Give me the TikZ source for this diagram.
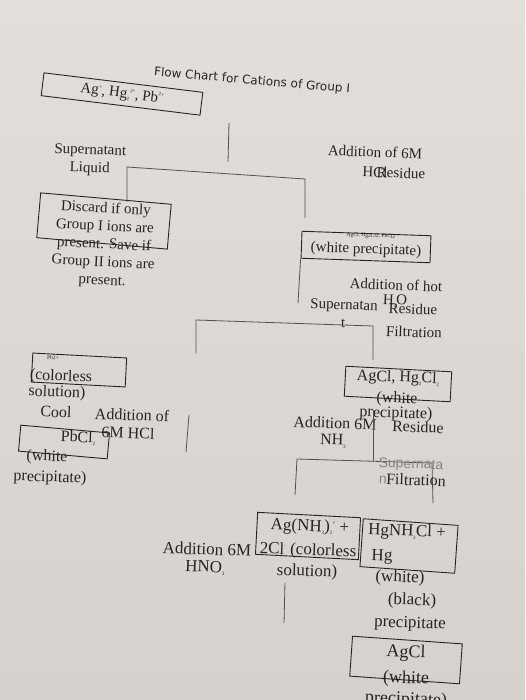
\documentclass[tikz,border=0pt]{standalone}
\usepackage{fontspec}
\setmainfont{Liberation Serif}
\newfontfamily\titlefont{DejaVu Sans}
\newfontfamily\notefont{Liberation Sans}
\usepackage{xcolor}
\usepackage{tikz}
\usetikzlibrary{positioning}

\definecolor{papertop}{RGB}{226,223,219}
\definecolor{paperbottom}{RGB}{213,209,204}
\definecolor{ink}{RGB}{40,36,36}
\definecolor{faded}{RGB}{135,132,130}

% tiny sub- and superscripts of the printed formulas
\newcommand{\chdn}[1]{\raisebox{-0.4ex}{\fontsize{5}{5}\selectfont #1}}
\newcommand{\chup}[1]{\raisebox{0.9ex}{\fontsize{5}{5}\selectfont #1}}

\tikzset{
  box/.style={draw=ink, text=ink, line width=0.9pt, inner sep=0pt, rotate=#1},
  box/.default=-3,
  txt/.style={text=ink, inner sep=0pt, align=center, rotate=#1},
  txt/.default=-2,
  tinytxt/.style={text=ink, inner sep=0pt, font=\fontsize{5.5}{6}\selectfont, rotate=-2},
  branch/.style={draw=ink!80, line width=0.8pt},
}

\begin{document}
\begin{tikzpicture}[x=1pt, y=-1pt, font=\fontsize{15}{18}\selectfont]
    % Paper of the page
    \shade[top color=papertop, bottom color=paperbottom] (0,0) rectangle (525,700);
    \useasboundingbox (0,0) rectangle (525,700);

    % Title and the starting ions
    \node[txt=-5, font=\titlefont\fontsize{12}{14}\selectfont] (title) at (252,81) {Flow Chart for Cations of Group I};
    \node[box=-7, minimum width=160, minimum height=23] (ions) at (122,94) {Ag\chup{+}, Hg\chdn{2}\chup{2+}, Pb\chup{2+}};

    \coordinate (top1) at (229,123);
    \coordinate (top2) at (228,162);
    \draw[branch] (top1) -- (top2);

    % First split: 6M HCl
    \node[txt] (supliq) at (90,160) {Supernatant\\Liquid};
    \node[txt] (addhcl) at (375,152) {Addition of 6M};
    \node[txt] (hcl) at (375,172) {HCl};
    \node[txt] (res1) at (401,173) {Residue};

    \node[box=-5, minimum width=131, minimum height=45] (discard) at (104,221) {};
    \node[txt=-3] (discardtxt) at (104,245) {Discard if only\\Group I ions are\\present. Save if\\Group II ions are\\present.};

    \node[box=-2, minimum width=129, minimum height=27] (wppt) at (366,247) {};
    \node[tinytxt] (wpptions) at (371,236) {AgCl, Hg2Cl2, PbCl2};
    \node[txt] (wppttxt) at (366,250) {(white precipitate)};

    \coordinate (b1a) at (127,202);
    \coordinate (b1l) at (127,167);
    \coordinate (b1r) at (305,179);
    \coordinate (b1d) at (305,218);
    \draw[branch] (b1a) -- (b1l) -- (b1r) -- (b1d);

    \coordinate (w1) at (298,303);
    \draw[branch] (wppt.south west) -- (w1);

    % Hot water
    \node[txt] (addhot) at (396,285) {Addition of hot};
    \node[txt] (hwater) at (395,301) {H\chdn{2}O};
    \node[txt] (sup2) at (344,306) {Supernatan};
    \node[txt] (sup2t) at (343,323) {t};
    \node[txt] (res2) at (413,309) {Residue};
    \node[txt] (filt1) at (414,332) {Filtration};

    \coordinate (b2la) at (196,353);
    \coordinate (b2l) at (196,320);
    \coordinate (b2r) at (373,326);
    \coordinate (b2ra) at (373,360);
    \draw[branch] (b2la) -- (b2l) -- (b2r) -- (b2ra);

    \begin{scope}[font=\fontsize{16}{18}\selectfont]
    % Lead
    \node[box, minimum width=94, minimum height=29] (pbbox) at (79,370) {};
    \node[tinytxt] (pbion) at (53,358) {Pb2+};
    \node[txt] (pbsol1) at (61,377) {(colorless};
    \node[txt] (pbsol2) at (57,393) {solution)};
    \node[txt] (cool) at (56,412) {Cool};
    \node[txt] (addhcl2) at (132,415) {Addition of};
    \node[txt] (hcl2) at (128,433) {6M HCl};
    \node[box=-5, minimum width=89, minimum height=26] (pbcl) at (64,442) {};
    \node[txt] (pbcltxt) at (78,438) {PbCl\chdn{2}};
    \node[txt] (pbclw) at (47,457) {(white};
    \node[txt] (pbclp) at (50,478) {precipitate)};

    \coordinate (c1) at (189,415);
    \coordinate (c2) at (186,452);
    \draw[branch] (c1) -- (c2);

    % Silver and mercury
    \node[box, minimum width=106, minimum height=30] (agbox) at (398,384) {};
    \node[txt] (agtxt) at (398,378) {AgCl, Hg\chdn{2}Cl\chdn{2}};
    \node[txt] (agw) at (397,399) {(white};
    \node[txt] (agp) at (396,414) {precipitate)};
    \node[txt] (addnh3) at (335,423) {Addition 6M};
    \node[txt] (nh3) at (333,441) {NH\chdn{3}};
    \node[txt] (res3) at (418,427) {Residue};

    \coordinate (b3t) at (373,410);
    \coordinate (b3m) at (373,461);
    \coordinate (b3la) at (295,495);
    \coordinate (b3l) at (297,459);
    \coordinate (b3r) at (432,463);
    \coordinate (b3ra) at (433,503);
    \draw[branch] (b3t) -- (b3m);
    \draw[branch] (b3la) -- (b3l) -- (b3r) -- (b3ra);

    \node[txt, text=faded, font=\notefont\fontsize{14}{16}\selectfont] (sup3) at (411,465) {Supernata};
    \node[txt, text=faded, font=\notefont\fontsize{14}{16}\selectfont] (sup3n) at (383,480) {n};
    \node[txt] (filt2) at (416,480) {Filtration};
    \end{scope}

    \begin{scope}[font=\fontsize{17}{19}\selectfont]
    % Ammonia products
    \node[box, minimum width=103, minimum height=42] (agnh) at (308,536) {};
    \node[txt] (agnh1) at (310,527) {Ag(NH\chdn{3})\chdn{2}\chup{+} +};
    \node[txt] (agnh2) at (308,551) {2Cl\chup{-} (colorless};
    \node[txt] (agnh3) at (307,572) {solution)};

    \node[box=-4, minimum width=95, minimum height=48] (hgnh) at (409,546) {};
    \node[txt] (hgnh1) at (407,532) {HgNH\chdn{2}Cl +};
    \node[txt] (hgnh2) at (382,557) {Hg};
    \node[txt] (hgw) at (400,578) {(white)};
    \node[txt] (hgb) at (412,601) {(black)};
    \node[txt] (hgp) at (410,624) {precipitate};

    \node[txt] (addhno) at (207,549) {Addition 6M};
    \node[txt] (hno) at (205,568) {HNO\chdn{3}};

    \coordinate (n1) at (285,583);
    \coordinate (n2) at (284,623);
    \draw[branch] (n1) -- (n2);
    \end{scope}

    \begin{scope}[font=\fontsize{18}{20}\selectfont]
    % Silver chloride again
    \node[box=-4, minimum width=110, minimum height=40] (agcl) at (406,660) {};
    \node[txt] (agcl1) at (406,653) {AgCl};
    \node[txt] (agcl2) at (406,679) {(white};
    \node[txt] (agcl3) at (406,700) {precipitate)};
    \end{scope}
\end{tikzpicture}
\end{document}
